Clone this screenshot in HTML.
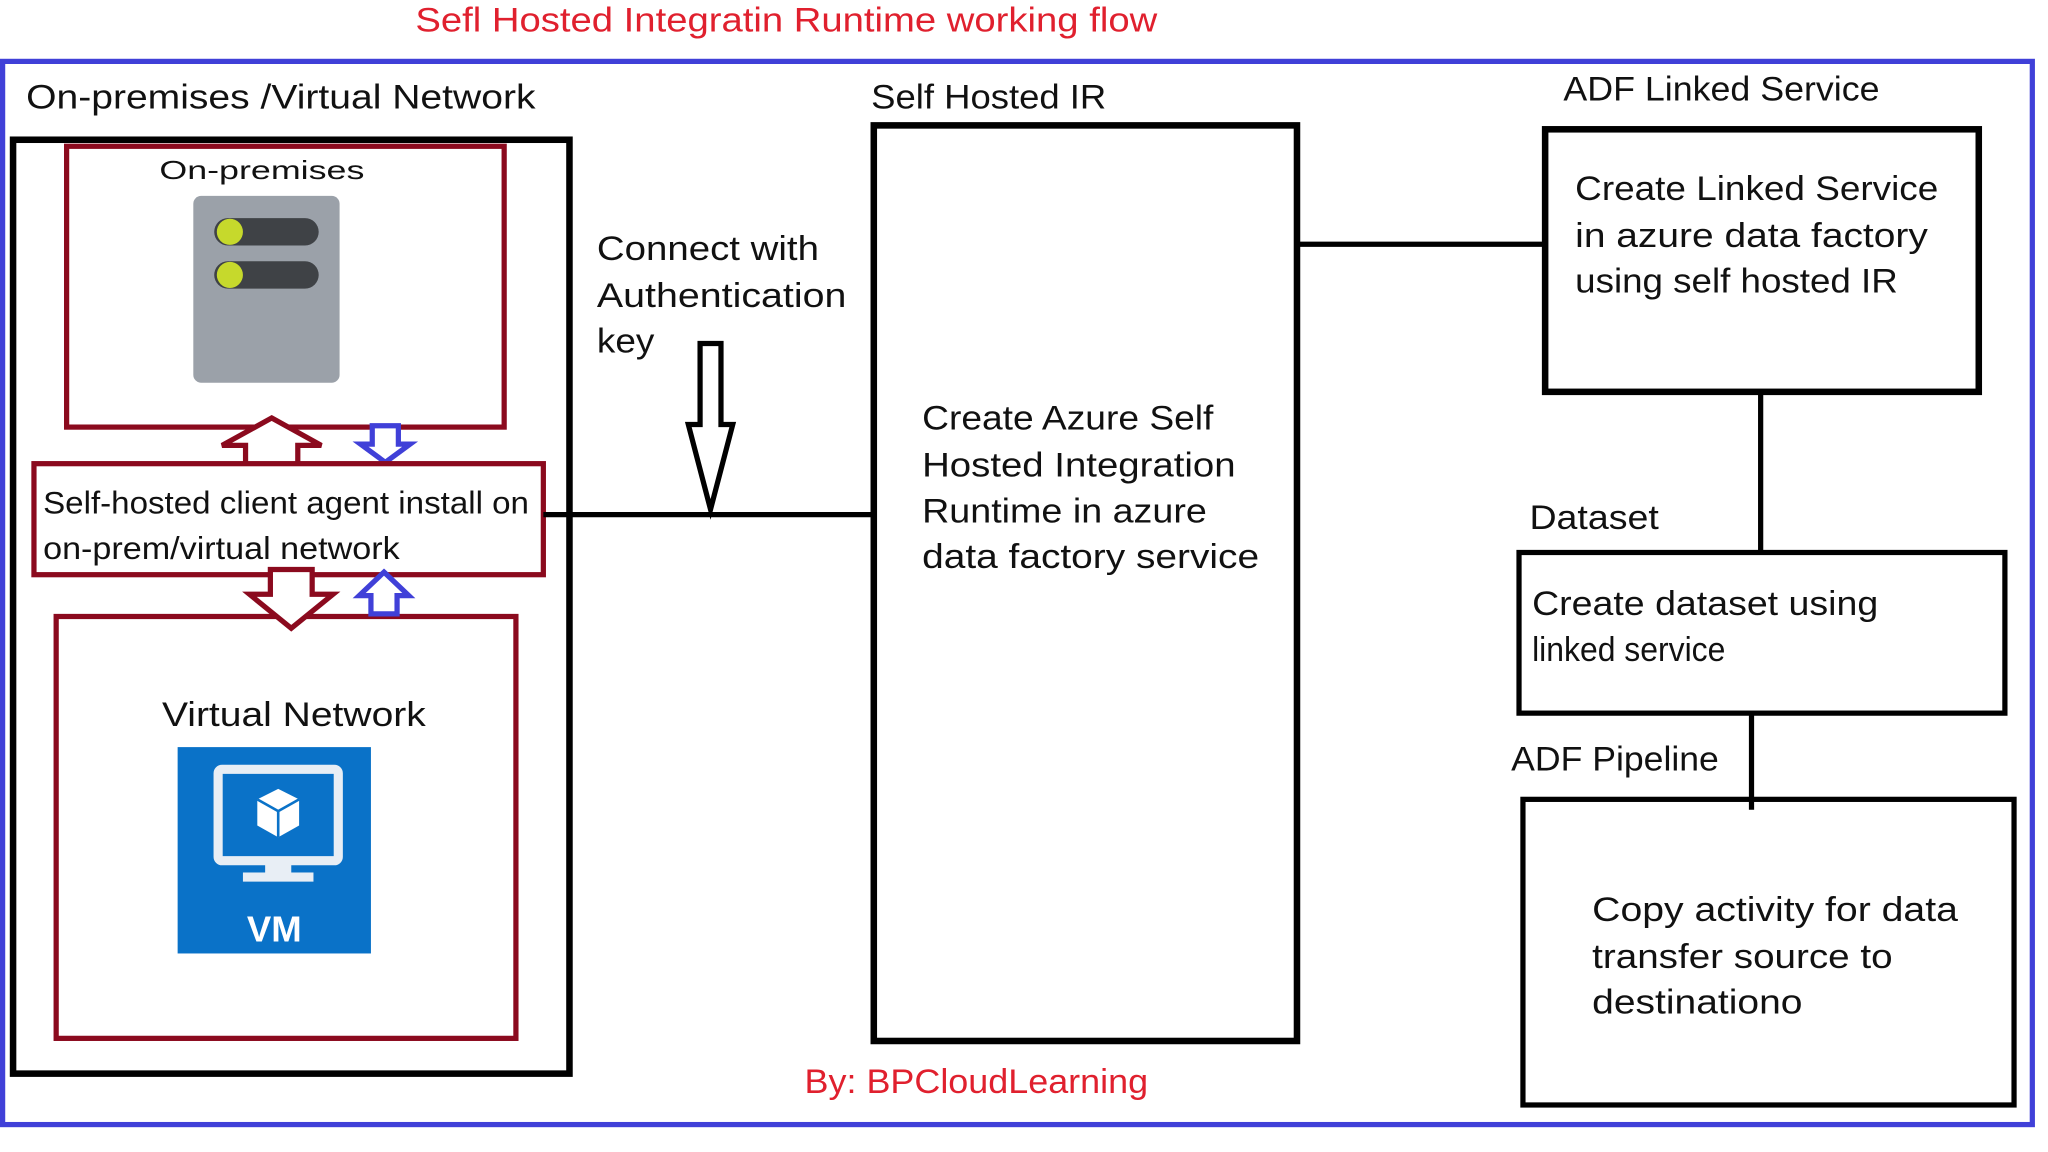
<!DOCTYPE html>
<html><head><meta charset="utf-8"><style>
html,body{margin:0;padding:0;background:#fff;width:2048px;height:1152px;overflow:hidden}
svg{display:block}
text{font-family:"Liberation Sans",sans-serif;fill:#111}
</style></head><body>
<svg width="2048" height="1152" viewBox="0 0 1568 882" preserveAspectRatio="none">
<rect x="0" y="0" width="1568" height="882" fill="#fff"/>
<text x="318" y="24" font-size="26" fill="#e0202e" style="fill:#e0202e" textLength="568" lengthAdjust="spacingAndGlyphs">Sefl Hosted Integratin Runtime working flow</text>
<rect x="2" y="47" width="1554" height="814" fill="none" stroke="#4040d8" stroke-width="4"/>
<text x="20" y="83" font-size="26" textLength="390" lengthAdjust="spacingAndGlyphs">On-premises  /Virtual Network</text>
<rect x="10" y="107" width="426" height="715" fill="none" stroke="#000" stroke-width="5"/>
<!-- on-prem box -->
<rect x="51" y="112" width="335" height="215" fill="none" stroke="#8b0a1e" stroke-width="4"/>
<text x="122" y="137" font-size="20" textLength="157" lengthAdjust="spacingAndGlyphs">On-premises</text>
<rect x="148" y="150" width="112" height="143" rx="6" fill="#9ba1a9"/>
<rect x="164" y="167" width="80" height="21" rx="10.5" fill="#3f4246"/>
<rect x="164" y="200" width="80" height="21" rx="10.5" fill="#3f4246"/>
<circle cx="176" cy="177.5" r="10" fill="#c6d92c"/>
<circle cx="176" cy="210.5" r="10" fill="#c6d92c"/>
<!-- arrows top -->
<polygon points="208,320 246,341 228,341 228,356 188,356 188,341 170,341" fill="#fff" stroke="#8b0a1e" stroke-width="4" stroke-linejoin="miter"/>
<polygon points="285,326 305,326 305,340 314,340 295,354 276,340 285,340" fill="#fff" stroke="#4040d8" stroke-width="4"/>
<!-- agent box -->
<rect x="26" y="355" width="390" height="85" fill="#fff" stroke="#8b0a1e" stroke-width="4"/>
<text x="33" y="393" font-size="24" textLength="372" lengthAdjust="spacingAndGlyphs">Self-hosted client agent install on</text>
<text x="33" y="428" font-size="24" textLength="273" lengthAdjust="spacingAndGlyphs">on-prem/virtual network</text>
<!-- VN box -->
<rect x="43" y="472" width="352" height="323" fill="none" stroke="#8b0a1e" stroke-width="4"/>
<polygon points="207,436 239,436 239,455 255,455 223,481 191,455 207,455" fill="#fff" stroke="#8b0a1e" stroke-width="4"/>
<polygon points="294,438 313,456 304,456 304,470 284,470 284,456 275,456" fill="#fff" stroke="#4040d8" stroke-width="4"/>
<text x="124" y="556" font-size="26" textLength="202" lengthAdjust="spacingAndGlyphs">Virtual Network</text>
<rect x="136" y="572" width="148" height="158" fill="#0a72c8"/>
<rect x="167" y="589" width="92" height="70" rx="3" fill="none" stroke="#e8eef5" stroke-width="7"/>
<rect x="203" y="659" width="20" height="10" fill="#e8eef5"/>
<rect x="186" y="668" width="54" height="7" fill="#e8eef5"/>
<polygon points="213,604 229,612 229,632 213,641 197,632 197,612" fill="#fff"/>
<polyline points="197,612 213,621 229,612 M213,621" fill="none" stroke="#0a72c8" stroke-width="2"/>
<line x1="213" y1="621" x2="213" y2="641" stroke="#0a72c8" stroke-width="2"/>
<text x="210" y="721" font-size="28" font-weight="bold" text-anchor="middle" style="fill:#fff">VM</text>
<!-- connector -->
<line x1="416" y1="394" x2="671" y2="394" stroke="#000" stroke-width="4"/>
<polygon points="536,263 552,263 552,325 561,325 544,390 527,325 536,325" fill="#fff" stroke="#000" stroke-width="4"/>
<text x="457" y="199" font-size="26" textLength="170" lengthAdjust="spacingAndGlyphs">Connect with</text>
<text x="457" y="235" font-size="26" textLength="191" lengthAdjust="spacingAndGlyphs">Authentication</text>
<text x="457" y="270" font-size="26" textLength="44" lengthAdjust="spacingAndGlyphs">key</text>
<!-- Self hosted IR -->
<text x="667" y="83" font-size="26" textLength="180" lengthAdjust="spacingAndGlyphs">Self Hosted IR</text>
<rect x="669" y="96" width="324" height="701" fill="none" stroke="#000" stroke-width="5"/>
<text x="706" y="329" font-size="26" textLength="223" lengthAdjust="spacingAndGlyphs">Create Azure Self</text>
<text x="706" y="365" font-size="26" textLength="240" lengthAdjust="spacingAndGlyphs">Hosted Integration</text>
<text x="706" y="400" font-size="26" textLength="218" lengthAdjust="spacingAndGlyphs">Runtime in azure</text>
<text x="706" y="435" font-size="26" textLength="258" lengthAdjust="spacingAndGlyphs">data factory service</text>
<!-- linked service -->
<line x1="993" y1="187" x2="1183" y2="187" stroke="#000" stroke-width="4"/>
<text x="1197" y="77" font-size="26" textLength="242" lengthAdjust="spacingAndGlyphs">ADF Linked Service</text>
<rect x="1183" y="99" width="332" height="201" fill="none" stroke="#000" stroke-width="5"/>
<text x="1206" y="153" font-size="26" textLength="278" lengthAdjust="spacingAndGlyphs">Create Linked Service</text>
<text x="1206" y="189" font-size="26" textLength="270" lengthAdjust="spacingAndGlyphs">in azure data factory</text>
<text x="1206" y="224" font-size="26" textLength="247" lengthAdjust="spacingAndGlyphs">using self hosted IR</text>
<line x1="1348" y1="300" x2="1348" y2="424" stroke="#000" stroke-width="4"/>
<text x="1171" y="405" font-size="26" textLength="99" lengthAdjust="spacingAndGlyphs">Dataset</text>
<rect x="1163" y="423" width="372" height="123" fill="none" stroke="#000" stroke-width="4"/>
<text x="1173" y="471" font-size="26" textLength="265" lengthAdjust="spacingAndGlyphs">Create dataset using</text>
<text x="1173" y="506" font-size="26" textLength="148" lengthAdjust="spacingAndGlyphs">linked service</text>
<line x1="1341" y1="546" x2="1341" y2="620" stroke="#000" stroke-width="4"/>
<text x="1157" y="590" font-size="26" textLength="159" lengthAdjust="spacingAndGlyphs">ADF Pipeline</text>
<rect x="1166" y="612" width="376" height="234" fill="none" stroke="#000" stroke-width="4"/>
<text x="1219" y="705" font-size="26" textLength="280" lengthAdjust="spacingAndGlyphs">Copy activity for data</text>
<text x="1219" y="741" font-size="26" textLength="230" lengthAdjust="spacingAndGlyphs">transfer source to</text>
<text x="1219" y="776" font-size="26" textLength="161" lengthAdjust="spacingAndGlyphs">destinationo</text>
<text x="616" y="837" font-size="26" style="fill:#e0202e" textLength="263" lengthAdjust="spacingAndGlyphs">By: BPCloudLearning</text>
</svg>
</body></html>
